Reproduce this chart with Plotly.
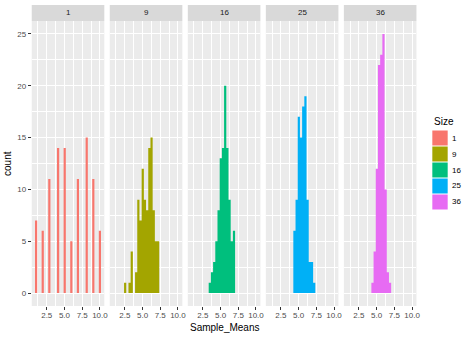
import plotly.graph_objects as go

# ---------------- data ----------------
sizes = ["1", "9", "16", "25", "36"]
colors = ["#F8766D", "#A3A500", "#00BF7D", "#00B0F6", "#E76BF3"]

# histogram (30 bins over data range 1..10): bin index -> count
bin_idx_1 = [0, 3, 6, 10, 13, 16, 19, 23, 26, 29]
counts_1 = [7, 6, 11, 14, 14, 5, 11, 15, 11, 6]
bin_idx_9 = [5, 7, 8, 10, 11, 12, 13, 14, 15, 16, 17, 18, 19, 20]
counts_9 = [1, 1, 4, 2, 9, 7, 12, 9, 8, 14, 15, 8, 5, 5]
bin_idx_16 = [8, 9, 10, 11, 12, 13, 14, 15, 16, 17, 18, 19]
counts_16 = [1, 2, 3, 5, 8, 13, 14, 20, 14, 9, 5, 6]
bin_idx_25 = [11, 12, 13, 14, 15, 16, 17, 18, 19, 20]
counts_25 = [6, 9, 17, 15, 18, 19, 9, 3, 3, 1]
bin_idx_36 = [11, 12, 13, 14, 15, 16, 17, 18, 19]
counts_36 = [1, 4, 12, 22, 23, 25, 10, 2, 1]

data_min, data_max, n_bins = 1.0, 10.0, 30

x_ticks = [2.5, 5.0, 7.5, 10.0]
x_ticklabels = ["2.5", "5.0", "7.5", "10.0"]
x_minor = [1.25, 3.75, 6.25, 8.75]
y_ticks = [0, 5, 10, 15, 20, 25]
y_ticklabels = ["0", "5", "10", "15", "20", "25"]
y_minor = [2.5, 7.5, 12.5, 17.5, 22.5]

panels = [
    (bin_idx_1, counts_1),
    (bin_idx_9, counts_9),
    (bin_idx_16, counts_16),
    (bin_idx_25, counts_25),
    (bin_idx_36, counts_36),
]

# ---------------- layout geometry ----------------
W, H = 474, 338
FONT = "Liberation Sans, Arial, sans-serif"
bw = (data_max - data_min) / (n_bins - 1)
lo_edge = data_min - bw / 2
hi_edge = data_max + bw / 2
span = hi_edge - lo_edge
x_range = [lo_edge - 0.05 * span, hi_edge + 0.05 * span]
y_range = [-1.25, 26.25]
edges = [lo_edge + k * bw for k in range(n_bins + 1)]

left_px, right_px, gap_px = 32.0, 420.0, 5.5
pw = (right_px - left_px - 4 * gap_px) / 5
panel_top_px, panel_bot_px = 21.0, 306.0
strip_top_px = 5.0


def px(x):
    return x / W


def py(y):
    return (H - y) / H


fig = go.Figure()
layout = dict(
    width=W, height=H,
    margin=dict(l=0, r=0, t=0, b=0),
    paper_bgcolor="white",
    plot_bgcolor="#EBEBEB",
    showlegend=False,
    font=dict(family=FONT, color="#4D4D4D", size=8),
    shapes=[], annotations=[],
)

for i, ((bidx, cnts), s, c) in enumerate(zip(panels, sizes, colors)):
    n = i + 1
    full = [0] * n_bins
    for k, v in zip(bidx, cnts):
        full[k] = v
    # histogram drawn as a step outline filled down to zero (no seams between bins)
    fig.add_trace(go.Scatter(
        x=edges, y=full + [full[-1]],
        mode="lines", line=dict(shape="hv", width=0, color=c),
        fill="tozeroy", fillcolor=c,
        xaxis=f"x{n}" if n > 1 else "x",
        yaxis=f"y{n}" if n > 1 else "y",
        name=s, hoverinfo="skip",
    ))
    x0 = left_px + i * (pw + gap_px)
    x1 = x0 + pw
    xa = dict(
        domain=[px(x0), px(x1)], range=x_range,
        anchor=f"y{n}" if n > 1 else "y",
        tickmode="array", tickvals=x_ticks, ticktext=x_ticklabels,
        ticks="outside", ticklen=3, tickwidth=1, tickcolor="#333333",
        tickfont=dict(size=8, color="#4D4D4D", family=FONT),
        ticklabelstandoff=-2,
        showgrid=True, gridcolor="white", gridwidth=1.1,
        minor=dict(tickmode="array", tickvals=x_minor, showgrid=True,
                   gridcolor="white", gridwidth=0.5, ticks=""),
        zeroline=False, showline=False, fixedrange=True,
    )
    ya = dict(
        domain=[py(panel_bot_px), py(panel_top_px)], range=y_range,
        anchor=f"x{n}" if n > 1 else "x",
        tickmode="array", tickvals=y_ticks, ticktext=y_ticklabels,
        showgrid=True, gridcolor="white", gridwidth=1.1,
        minor=dict(tickmode="array", tickvals=y_minor, showgrid=True,
                   gridcolor="white", gridwidth=0.5, ticks=""),
        zeroline=False, showline=False, fixedrange=True,
    )
    if n == 1:
        ya.update(ticks="outside", ticklen=3, tickwidth=1, tickcolor="#333333",
                  tickfont=dict(size=8, color="#4D4D4D", family=FONT),
                  showticklabels=True)
    else:
        ya.update(ticks="", showticklabels=False)
    layout["xaxis" if n == 1 else f"xaxis{n}"] = xa
    layout["yaxis" if n == 1 else f"yaxis{n}"] = ya

    # facet strip
    layout["shapes"].append(dict(
        type="rect", xref="paper", yref="paper",
        x0=px(x0), x1=px(x1), y0=py(panel_top_px), y1=py(strip_top_px),
        fillcolor="#D9D9D9", line=dict(width=0), layer="below"))
    layout["annotations"].append(dict(
        text=s, xref="paper", yref="paper",
        x=px((x0 + x1) / 2), y=py((strip_top_px + panel_top_px) / 2),
        xanchor="center", yanchor="middle", showarrow=False,
        font=dict(size=8, color="#1A1A1A", family=FONT)))

# axis titles
layout["annotations"].append(dict(
    text="Sample_Means", xref="paper", yref="paper",
    x=px((left_px + right_px) / 2), y=py(327), xanchor="center", yanchor="middle",
    showarrow=False, font=dict(size=10, color="black", family=FONT)))
layout["annotations"].append(dict(
    text="count", xref="paper", yref="paper", textangle=-90,
    x=px(7.5), y=py((panel_top_px + panel_bot_px) / 2), xanchor="center", yanchor="middle",
    showarrow=False, font=dict(size=10, color="black", family=FONT)))

# legend (drawn)
key_x0, key_x1 = 436.0, 451.5
key_top, key_h = 130.0, 16.0
layout["annotations"].append(dict(
    text="Size", xref="paper", yref="paper", x=px(435.5), y=py(122),
    xanchor="left", yanchor="middle", showarrow=False,
    font=dict(size=10, color="black", family=FONT)))
for j, (s, c) in enumerate(zip(sizes, colors)):
    ty = key_top + j * key_h
    layout["shapes"].append(dict(
        type="rect", xref="paper", yref="paper",
        x0=px(key_x0), x1=px(key_x1), y0=py(ty + key_h - 0.5), y1=py(ty + 0.5),
        fillcolor=c, line=dict(width=0)))
    layout["annotations"].append(dict(
        text=s, xref="paper", yref="paper", x=px(454), y=py(ty + key_h / 2),
        xanchor="left", yanchor="middle", showarrow=False,
        font=dict(size=8, color="black", family=FONT)))

fig.update_layout(**layout)
fig.write_html("out.html", config={"displayModeBar": False})
